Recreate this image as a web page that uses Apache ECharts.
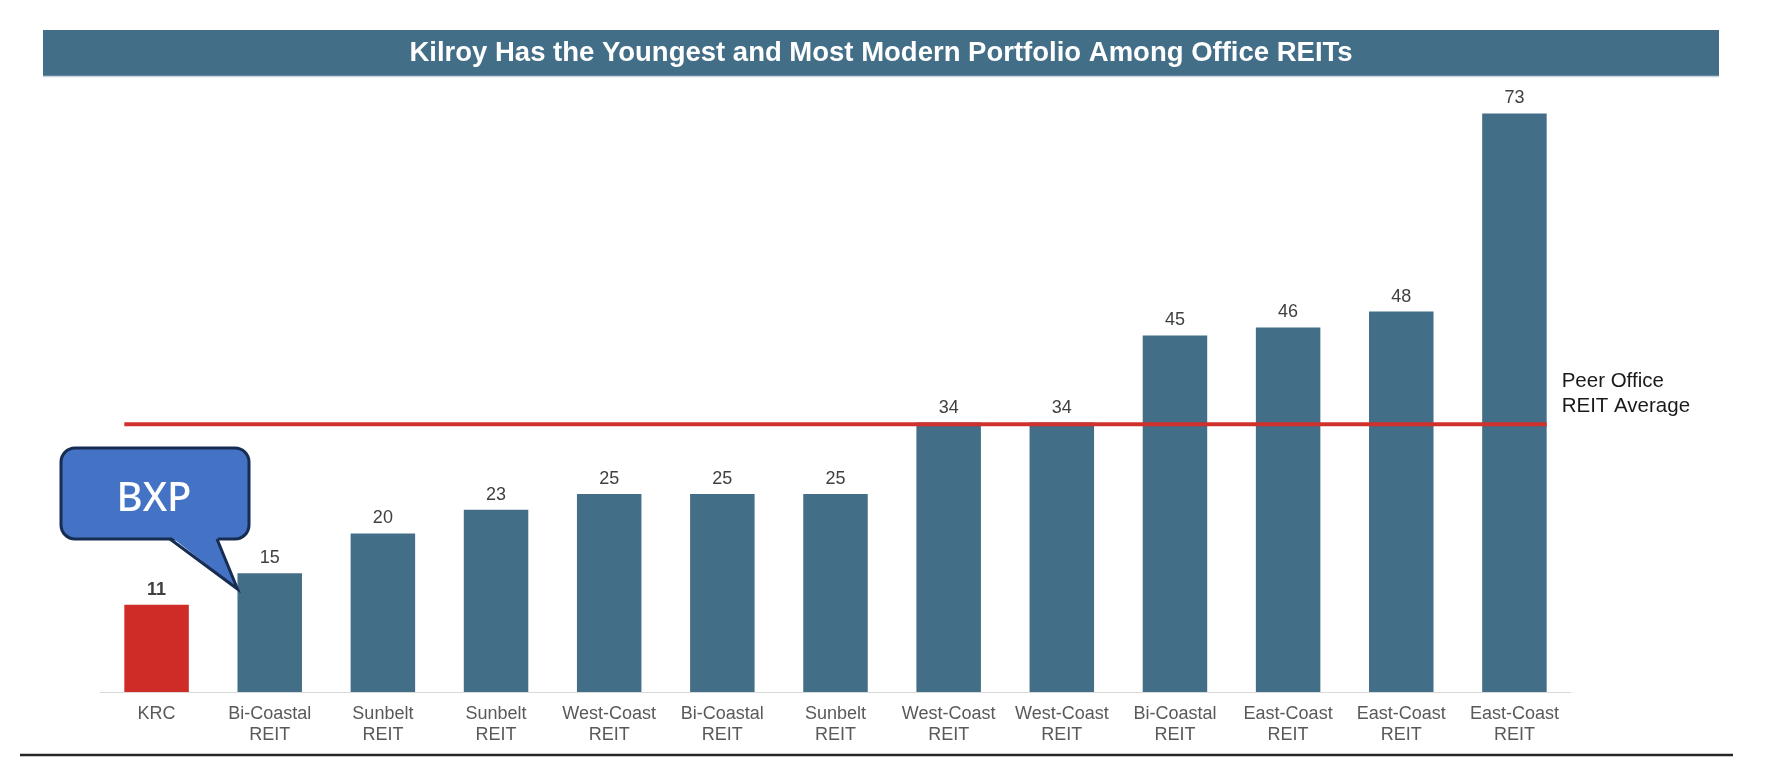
<!DOCTYPE html>
<html>
<head>
<meta charset="utf-8">
<script src="https://cdn.jsdelivr.net/npm/echarts@6/dist/echarts.min.js"></script>
<style>
html,body{margin:0;padding:0;background:#fff;}
#c{width:1770px;height:770px;}
</style>
</head>
<body>
<div id="c"></div>
<script>
const titleText = 'Kilroy Has the Youngest and Most Modern Portfolio Among Office REITs';
const categories = ['KRC', 'Bi-Coastal REIT', 'Sunbelt REIT', 'Sunbelt REIT', 'West-Coast REIT', 'Bi-Coastal REIT', 'Sunbelt REIT', 'West-Coast REIT', 'West-Coast REIT', 'Bi-Coastal REIT', 'East-Coast REIT', 'East-Coast REIT', 'East-Coast REIT'];
const ages = [11, 15, 20, 23, 25, 25, 25, 34, 34, 45, 46, 48, 73];
const peerAverage = 33.8;
const peerLabel = 'Peer Office\nREIT Average';
const calloutText = 'BXP';
const calloutIndex = 1;

const BAR = '#436E87';
const KRC_RED = '#CF2B27';
const LINE_RED = '#D0312D';
const FONT = '"Liberation Sans", Arial, Helvetica, sans-serif';
const barRatio = 0.57;

const chart = echarts.init(document.getElementById('c'));

const barData = ages.map((v, i) => i === 0
  ? { value: v, itemStyle: { color: KRC_RED }, label: { fontWeight: 'bold' } }
  : v);

const n = categories.length;
const avgLine = [[0 - barRatio / 2, peerAverage], [n - 1 + barRatio / 2, peerAverage]];

chart.setOption({
  animation: false,
  backgroundColor: '#ffffff',
  grid: { left: 100, right: 199, top: 58, bottom: 78 },
  xAxis: [
    {
      type: 'category',
      data: categories,
      axisLine: { show: true, lineStyle: { color: '#D9D9D9', width: 1 } },
      axisTick: { show: false },
      axisLabel: {
        interval: 0,
        margin: 12,
        color: '#595959',
        fontSize: 18,
        lineHeight: 21,
        fontFamily: FONT,
        formatter: v => v.replace(' ', '\n')
      }
    },
    { type: 'value', min: -0.5, max: n - 0.5, show: false }
  ],
  yAxis: { type: 'value', min: 0, max: 80, show: false, splitLine: { show: false } },
  series: [
    {
      type: 'bar',
      data: barData,
      barWidth: (barRatio * 100) + '%',
      itemStyle: { color: BAR },
      label: {
        show: true,
        position: 'top',
        distance: 6,
        color: '#404040',
        fontSize: 18,
        fontFamily: FONT
      },
      z: 2
    },
    {
      type: 'line',
      xAxisIndex: 1,
      data: avgLine,
      symbol: 'none',
      lineStyle: { color: LINE_RED, width: 4 },
      z: 3,
      silent: true
    }
  ]
});

// annotation graphics
const p0 = chart.convertToPixel({ seriesIndex: 0 }, [0, 0]);
const p1 = chart.convertToPixel({ seriesIndex: 0 }, [1, 0]);
const band = p1[0] - p0[0];
const tipPt = chart.convertToPixel({ seriesIndex: 0 }, [calloutIndex, 13]);
const tipX = tipPt[0] - band * barRatio / 2;
const tipY = tipPt[1];
const avgPx = chart.convertToPixel({ seriesIndex: 0 }, [n - 1, peerAverage]);
const lastRight = avgPx[0] + band * barRatio / 2;

const boxX = 61, boxY = 448, boxW = 188, boxH = 91;
const baseY = boxY + boxH;
const baseL = 170, baseR = 217;

chart.setOption({
  graphic: [
    {
      type: 'rect',
      shape: { x: 43, y: 30, width: 1676, height: 46 },
      style: { fill: '#436E87' },
      z: 10
    },
    {
      type: 'line',
      shape: { x1: 43, y1: 76.5, x2: 1719, y2: 76.5 },
      style: { stroke: '#C5D4DE', lineWidth: 1.5 },
      z: 10
    },
    {
      type: 'text',
      x: 881, y: 53,
      style: {
        text: titleText,
        fill: '#ffffff',
        font: 'bold 27.5px ' + FONT,
        align: 'center',
        verticalAlign: 'middle'
      },
      z: 11
    },
    {
      type: 'text',
      x: lastRight + 15, y: avgPx[1] - 5,
      style: {
        text: peerLabel,
        fill: '#1a1a1a',
        font: '20.5px ' + FONT,
        lineHeight: 25,
        align: 'left',
        verticalAlign: 'bottom'
      },
      z: 11
    },
    {
      type: 'line',
      shape: { x1: 20, y1: 755, x2: 1733, y2: 755 },
      style: { stroke: '#262626', lineWidth: 2.5 },
      z: 10
    },
    // callout box
    {
      type: 'rect',
      shape: { x: boxX, y: boxY, width: boxW, height: boxH, r: 14 },
      style: { fill: '#4472C4', stroke: '#172C51', lineWidth: 3 },
      z: 20
    },
    {
      type: 'polygon',
      shape: { points: [[baseL, baseY - 3], [tipX, tipY], [baseR, baseY - 3]] },
      style: { fill: '#4472C4' },
      z: 21
    },
    {
      type: 'polyline',
      shape: { points: [[baseL, baseY], [tipX, tipY], [baseR, baseY]] },
      style: { stroke: '#172C51', lineWidth: 3, fill: null, lineJoin: 'miter' },
      z: 22
    },
    {
      type: 'text',
      x: boxX + boxW / 2 - 1, y: boxY + boxH / 2 + 6,
      style: {
        text: calloutText,
        fill: '#ffffff',
        font: '500 40px "Noto Sans", "DejaVu Sans", sans-serif',
        align: 'center',
        verticalAlign: 'middle'
      },
      z: 23
    }
  ]
});
</script>
</body>
</html>
